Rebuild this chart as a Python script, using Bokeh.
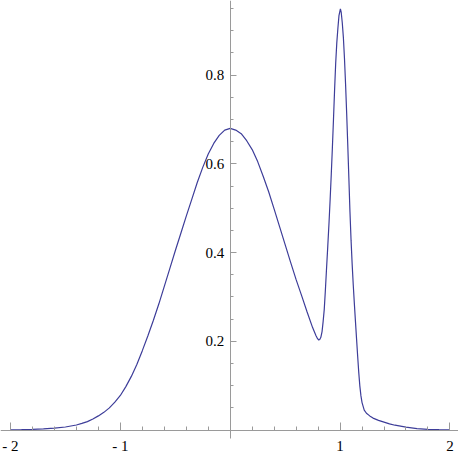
from bokeh.plotting import figure
from bokeh.models import FixedTicker, Range1d
from bokeh.embed import file_html
from bokeh.resources import INLINE

# curve
x_vals = [-2.0, -1.9, -1.8, -1.7, -1.6, -1.5, -1.4, -1.35, -1.3, -1.25,
          -1.2, -1.15, -1.1, -1.05, -1.0, -0.95, -0.9, -0.85, -0.8, -0.75,
          -0.7, -0.65, -0.6, -0.55,
          -0.5, -0.45, -0.4, -0.35, -0.3, -0.25, -0.2, -0.15, -0.1, -0.05,
          0.0, 0.05, 0.1, 0.15, 0.2, 0.25, 0.3, 0.35, 0.4, 0.45,
          0.5, 0.55, 0.6, 0.65, 0.7, 0.75, 0.78, 0.795, 0.806, 0.815,
          0.825, 0.836, 0.846, 0.856, 0.866, 0.876, 0.888, 0.900, 0.910, 0.920,
          0.930, 0.940, 0.950, 0.960, 0.970, 0.980, 0.990, 1.003, 1.010, 1.020,
          1.030, 1.040, 1.050, 1.060, 1.070, 1.080, 1.090, 1.100, 1.110, 1.120,
          1.130, 1.140, 1.150, 1.160, 1.170, 1.180, 1.190, 1.200, 1.220, 1.240,
          1.270, 1.300, 1.350, 1.400, 1.450, 1.500, 1.600, 1.700, 1.800, 1.900,
          2.000]
y_vals = [0.0004, 0.0009, 0.0016, 0.0027, 0.0043, 0.0070, 0.0115, 0.015, 0.019, 0.025,
          0.032, 0.040, 0.050, 0.063, 0.078, 0.098, 0.121, 0.148, 0.179, 0.212,
          0.247, 0.284, 0.324, 0.364,
          0.404, 0.443, 0.482, 0.520, 0.558, 0.592, 0.622, 0.646, 0.664, 0.676,
          0.680, 0.676, 0.668, 0.652, 0.632, 0.605, 0.572, 0.537, 0.498, 0.458,
          0.418, 0.378, 0.339, 0.303, 0.266, 0.231, 0.213, 0.206, 0.203, 0.204,
          0.209, 0.222, 0.245, 0.272, 0.314, 0.360, 0.414, 0.470, 0.522, 0.577,
          0.636, 0.700, 0.766, 0.826, 0.872, 0.905, 0.934, 0.949, 0.942, 0.918,
          0.885, 0.838, 0.780, 0.714, 0.643, 0.568, 0.492, 0.428, 0.374, 0.327,
          0.285, 0.245, 0.206, 0.167, 0.130, 0.099, 0.077, 0.062, 0.045, 0.038,
          0.032, 0.027, 0.022, 0.018, 0.014, 0.011, 0.0065, 0.0035, 0.0018, 0.0009,
          0.0004]

x_major = [-2, -1, 1, 2]
x_labels = ["- 2", "- 1", "1", "2"]
x_minor = [-2.0, -1.8, -1.6, -1.4, -1.2, -1.0, -0.8, -0.6, -0.4, -0.2, 0.0,
           0.2, 0.4, 0.6, 0.8, 1.0, 1.2, 1.4, 1.6, 1.8, 2.0]
y_major = [0.2, 0.4, 0.6, 0.8]
y_labels = ["0.2", "0.4", "0.6", "0.8"]
y_minor = [0.05, 0.1, 0.15, 0.2, 0.25, 0.3, 0.35, 0.4, 0.45, 0.5,
           0.55, 0.6, 0.65, 0.7, 0.75, 0.8, 0.85, 0.9, 0.95]

p = figure(width=458, height=458, output_backend="svg", toolbar_location=None,
           x_range=Range1d(-2.091, 2.078), y_range=Range1d(-0.064, 0.968),
           min_border_left=0, min_border_right=0, min_border_top=0,
           min_border_bottom=0)
p.background_fill_color = "white"
p.border_fill_color = "white"
p.outline_line_color = None
p.grid.visible = False

p.line(x_vals, y_vals, line_color="#3d3d99", line_width=1.2)

axis_color = "#9a9a9a"
for ax in (p.xaxis[0], p.yaxis[0]):
    ax.fixed_location = 0
    ax.axis_line_color = axis_color
    ax.major_tick_line_color = axis_color
    ax.minor_tick_line_color = axis_color
    ax.major_tick_out = 0
    ax.minor_tick_out = 0
    ax.major_label_text_font = "Liberation Serif"
    ax.major_label_text_font_size = "15px"
    ax.major_label_text_color = "black"

xa = p.xaxis[0]
xa.ticker = FixedTicker(ticks=x_major, minor_ticks=x_minor)
xa.major_label_overrides = {t: s for t, s in zip(x_major, x_labels)}
xa.major_tick_in = 8
xa.minor_tick_in = 4
xa.major_label_standoff = 8

ya = p.yaxis[0]
ya.ticker = FixedTicker(ticks=y_major, minor_ticks=y_minor)
ya.major_label_overrides = {t: s for t, s in zip(y_major, y_labels)}
ya.major_tick_in = 6
ya.minor_tick_in = 3
ya.major_label_standoff = 6
ya.bounds = (-0.0195, 0.968)

open("out.html", "w").write(file_html(p, INLINE))
